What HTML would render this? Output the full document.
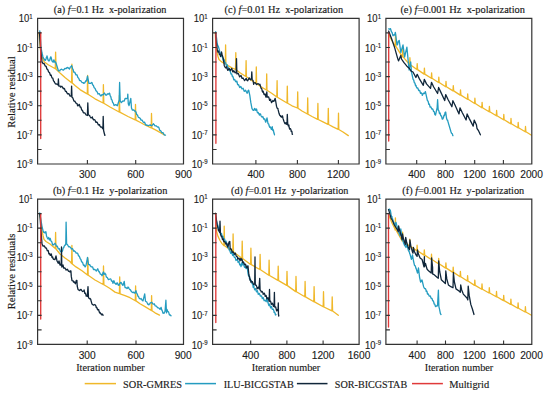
<!DOCTYPE html><html><head><meta charset="utf-8"><style>html,body{margin:0;padding:0;background:#fff;width:550px;height:393px;overflow:hidden}</style></head><body><svg width="550" height="393" viewBox="0 0 550 393" style="display:block">
<rect width="550" height="393" fill="#fff"/>
<clipPath id="clipa"><rect x="37.6" y="18.3" width="145.9" height="145.7"/></clipPath>
<g clip-path="url(#clipa)" fill="none" stroke-linejoin="round" stroke-linecap="round">
<polyline points="39.0,33.0 39.6,40.0 40.5,50.0 41.7,55.5 44.1,61.7 48.2,64.7 55.3,68.8 55.6,52.1 56.1,69.3 60.0,73.0 65.0,77.5 70.0,81.5 71.6,82.8 71.9,64.2 72.3,83.1 75.0,85.5 80.0,89.6 85.0,92.6 87.3,94.0 87.6,75.5 88.0,94.2 95.0,98.8 103.1,103.0 103.4,84.7 103.8,103.2 110.0,107.0 115.0,109.8 119.1,112.0 119.4,95.4 119.8,112.2 128.0,116.5 135.2,119.9 135.5,104.5 135.9,120.1 140.0,122.3 145.0,125.0 151.2,127.9 151.5,113.5 151.9,128.1 155.0,129.7 160.0,132.4 164.5,135.0" stroke="#F0B82A" stroke-width="1.3"/>
<polyline points="39.8,31.0 40.5,40.0 41.0,47.0 42.0,53.0 43.0,57.0 43.8,58.8 44.7,59.5 45.0,60.5 45.6,60.1 46.0,59.0 46.3,57.7 46.8,56.9 47.0,56.0 48.0,60.0 49.0,61.0 49.1,60.1 49.9,60.0 50.0,59.0 50.6,57.0 51.0,57.0 52.0,61.0 53.0,62.0 53.1,62.3 53.9,59.8 54.0,60.0 54.5,61.7 55.0,62.5 55.4,61.9 56.0,63.0 58.4,70.8 59.9,70.8 60.0,70.0 61.6,69.2 62.5,69.8 63.2,70.2 64.5,69.0 64.8,68.5 66.3,68.6 66.5,67.8 67.8,67.5 69.5,69.0 69.6,68.8 70.4,66.9 71.4,66.5 71.6,65.7 72.0,66.3 72.6,68.8 73.1,69.5 73.7,72.1 73.7,71.8 74.8,72.4 76.0,74.9 76.7,74.9 77.0,74.8 77.9,77.6 78.7,78.2 79.6,80.5 80.0,80.7 80.7,80.6 82.0,82.5 83.4,82.7 83.6,83.4 84.7,82.9 86.0,80.7 86.5,81.0 87.5,76.2 88.9,83.4 90.5,83.4 91.6,82.5 91.9,82.4 92.6,84.8 93.4,85.5 94.2,87.9 94.3,87.8 95.1,88.4 96.0,90.7 96.9,91.5 97.8,93.2 97.9,94.0 99.2,93.6 100.6,95.8 101.4,95.8 101.9,94.6 103.2,94.9 104.1,93.2 104.4,93.0 105.8,95.2 106.7,95.0 107.2,93.9 108.6,94.0 109.4,93.2 109.6,93.2 110.2,95.8 110.7,96.4 111.2,98.5 111.3,99.3 112.0,99.9 112.6,102.3 113.3,103.2 113.9,104.8 114.1,105.5 115.8,104.6 117.4,105.7 119.2,100.0 119.6,82.5 120.2,101.0 121.0,102.1 121.3,102.6 122.9,101.0 123.7,101.2 124.2,101.1 125.1,98.5 125.5,98.5 126.5,98.7 127.5,98.0 127.8,94.1 128.3,104.0 128.9,105.1 129.0,105.7 130.4,100.0 130.8,98.5 131.5,108.0 132.3,109.9 132.6,110.1 133.6,109.8 135.2,111.6 135.3,111.0 136.0,112.0 136.7,114.5 137.5,115.0 137.9,116.3 138.5,117.4 139.7,117.8 140.6,119.0 140.9,120.0 142.1,120.1 143.3,122.2 144.2,122.6 144.5,122.1 145.6,124.7 146.8,125.3 146.8,125.0 148.5,125.7 150.2,124.7 150.4,125.3 151.9,125.6 153.5,123.8 154.0,124.4 155.0,125.8 156.4,125.8 156.6,126.2 157.9,127.2 158.4,127.0 158.9,127.6 159.7,130.2 160.2,130.6 160.6,130.7 161.8,132.6 163.0,132.6 163.8,134.2 164.3,134.9 165.5,135.2" stroke="#249CC0" stroke-width="1.3"/>
<polyline points="39.5,33.0 40.5,48.0 42.0,61.7 43.1,63.7 44.1,63.5 45.2,66.1 45.2,65.7 46.1,66.2 46.9,69.0 47.8,69.6 48.2,70.8 48.6,72.0 49.5,72.5 50.4,75.3 51.3,75.1 51.3,75.9 52.0,77.9 52.8,78.2 53.5,80.9 54.3,81.5 54.3,82.0 55.5,83.8 56.4,84.1 56.8,83.9 58.1,85.0 58.4,79.0 58.8,86.0 60.4,86.1 60.5,87.1 61.9,86.3 63.3,88.8 63.5,88.1 64.4,88.5 65.4,91.4 66.4,91.3 66.5,92.2 67.6,93.8 68.8,93.6 69.6,95.3 70.1,96.0 71.3,96.0 71.6,86.1 72.0,97.3 72.9,98.1 73.9,101.0 74.7,101.4 74.8,101.1 76.0,103.2 76.7,103.4 77.0,103.5 77.5,105.4 77.8,105.9 79.0,104.8 79.2,104.3 80.0,106.5 80.1,107.0 80.9,107.2 81.7,110.2 82.0,110.0 82.6,110.7 83.4,112.8 83.6,112.8 84.8,112.8 85.5,114.0 86.1,115.0 87.4,115.5 87.8,102.8 88.3,115.0 89.6,115.4 90.0,116.5 91.0,118.0 92.4,117.0 92.5,118.1 93.6,119.9 94.0,119.5 94.8,119.8 96.0,122.4 96.0,121.7 97.2,122.4 97.5,123.0 98.4,125.0 99.6,124.6 99.6,125.3 100.6,127.0 101.0,127.0 101.8,127.1 102.9,128.8 103.2,116.3 103.6,130.5 104.2,133.0 104.8,135.4 105.0,135.0" stroke="#10263A" stroke-width="1.3"/>
<polyline points="40.7,32.6 40.7,138.5" stroke="#E03A3A" stroke-width="1.35"/>
</g>
<path d="M37.6,18.3H183.5V164.0H37.6Z" fill="none" stroke="#333333" stroke-width="1.2"/>
<path d="M37.6,32.87h4M37.6,47.44h4M37.6,62.01h4M37.6,76.58h4M37.6,91.15h4M37.6,105.72h4M37.6,120.29h4M37.6,134.86h4M37.6,149.43h4M87.4,164.0v-4M135.7,164.0v-4" stroke="#333333" stroke-width="1.1" fill="none"/>
<text transform="translate(32.7,22.4) scale(0.93,1)" text-anchor="end" font-family='"Liberation Sans", sans-serif' font-size="10.2" fill="#1a1a1a" stroke="#1a1a1a" stroke-width="0.12">10<tspan dy="-3.9" font-size="6.5">1</tspan></text>
<text transform="translate(32.7,51.5) scale(0.93,1)" text-anchor="end" font-family='"Liberation Sans", sans-serif' font-size="10.2" fill="#1a1a1a" stroke="#1a1a1a" stroke-width="0.12">10<tspan dy="-3.9" font-size="6.5">-1</tspan></text>
<text transform="translate(32.7,80.7) scale(0.93,1)" text-anchor="end" font-family='"Liberation Sans", sans-serif' font-size="10.2" fill="#1a1a1a" stroke="#1a1a1a" stroke-width="0.12">10<tspan dy="-3.9" font-size="6.5">-3</tspan></text>
<text transform="translate(32.7,109.8) scale(0.93,1)" text-anchor="end" font-family='"Liberation Sans", sans-serif' font-size="10.2" fill="#1a1a1a" stroke="#1a1a1a" stroke-width="0.12">10<tspan dy="-3.9" font-size="6.5">-5</tspan></text>
<text transform="translate(32.7,139.0) scale(0.93,1)" text-anchor="end" font-family='"Liberation Sans", sans-serif' font-size="10.2" fill="#1a1a1a" stroke="#1a1a1a" stroke-width="0.12">10<tspan dy="-3.9" font-size="6.5">-7</tspan></text>
<text transform="translate(32.7,168.1) scale(0.93,1)" text-anchor="end" font-family='"Liberation Sans", sans-serif' font-size="10.2" fill="#1a1a1a" stroke="#1a1a1a" stroke-width="0.12">10<tspan dy="-3.9" font-size="6.5">-9</tspan></text>
<text x="87.4" y="178.3" text-anchor="middle" font-family='"Liberation Sans", sans-serif' font-size="10.2" fill="#1a1a1a" stroke="#1a1a1a" stroke-width="0.12">300</text>
<text x="135.7" y="178.3" text-anchor="middle" font-family='"Liberation Sans", sans-serif' font-size="10.2" fill="#1a1a1a" stroke="#1a1a1a" stroke-width="0.12">600</text>
<text x="183.5" y="178.3" text-anchor="middle" font-family='"Liberation Sans", sans-serif' font-size="10.2" fill="#1a1a1a" stroke="#1a1a1a" stroke-width="0.12">900</text>
<text x="53.8" y="12.7" textLength="112.7" lengthAdjust="spacingAndGlyphs" font-family='"Liberation Serif", serif' font-size="10.3" fill="#1a1a1a" stroke="#1a1a1a" stroke-width="0.15">(a) <tspan font-style="italic">f</tspan>=0.1 Hz&#160; x-polarization</text>
<text transform="translate(14.9,92.0) rotate(-90)" text-anchor="middle" font-family='"Liberation Serif", serif' font-size="10.6" fill="#1a1a1a" stroke="#1a1a1a" stroke-width="0.15">Relative residual</text>
<clipPath id="clipc"><rect x="212.6" y="18.3" width="146.50000000000003" height="145.7"/></clipPath>
<g clip-path="url(#clipc)" fill="none" stroke-linejoin="round" stroke-linecap="round">
<polyline points="215.3,33.0 215.8,44.0 216.5,49.0 217.0,52.6 218.0,56.5 219.0,59.5 221.0,61.4 223.0,62.6 225.3,63.8 225.6,45.0 225.9,64.0 228.0,65.6 232.0,67.9 235.5,69.5 235.8,52.7 236.1,69.7 240.0,72.8 245.8,76.5 246.1,60.6 246.4,76.7 251.0,80.0 256.0,83.5 256.3,67.0 256.6,83.7 261.0,86.8 266.4,90.0 266.7,74.0 267.0,90.2 272.0,93.5 276.8,97.0 277.1,80.7 277.4,97.2 282.0,100.0 287.0,103.0 287.3,86.1 287.6,103.2 292.0,105.8 297.4,108.0 297.7,91.8 298.0,108.2 302.0,111.0 307.4,114.0 307.7,97.8 308.0,114.2 312.0,116.5 317.6,119.3 317.9,103.4 318.2,119.5 323.0,121.8 328.0,124.3 328.3,108.3 328.6,124.5 333.0,126.8 338.2,129.3 338.5,113.2 338.8,129.5 343.0,132.0 348.3,135.6" stroke="#F0B82A" stroke-width="1.3"/>
<polyline points="215.7,31.6 215.9,33.1 217.2,43.3 217.8,46.0 218.2,46.0 219.2,49.4 220.2,53.5 221.2,53.6 221.5,55.0 221.9,56.8 222.5,57.0 223.1,60.0 223.3,59.6 224.0,59.4 224.5,61.0 224.9,63.1 225.6,62.7 226.3,65.4 226.3,64.7 227.2,64.9 228.0,68.0 228.4,67.8 228.8,68.0 229.6,70.8 230.3,70.5 230.4,71.8 231.0,74.0 231.7,73.9 232.4,76.6 232.4,75.9 233.1,76.8 233.8,79.8 234.5,80.0 234.6,79.4 235.7,81.7 236.5,82.0 236.8,81.0 237.6,84.5 238.5,85.1 238.5,84.6 239.7,87.5 240.8,86.5 241.6,88.1 242.0,88.9 243.1,88.3 244.2,91.3 244.7,91.2 245.6,90.3 247.1,93.3 247.7,92.2 248.1,90.5 248.7,90.2 249.8,95.3 250.8,102.4 252.0,108.6 253.2,110.4 254.0,110.3 254.5,108.5 255.8,110.4 256.0,109.0 256.6,109.1 257.0,111.2 257.3,112.3 258.0,113.0 258.1,112.3 259.5,115.1 259.5,113.9 260.5,113.8 261.0,115.7 261.6,116.8 262.5,117.0 262.8,116.5 263.8,119.2 264.0,118.8 264.8,119.0 265.0,120.1 265.7,122.2 266.0,121.5 267.0,117.9 268.0,123.7 268.8,124.1 269.0,125.5 269.7,127.4 270.0,126.8 270.5,127.3 271.0,128.6 271.4,129.5 272.0,127.3 272.2,126.6 272.8,130.5 273.0,129.9 273.4,130.0 273.9,133.1 274.0,132.6 274.5,134.8" stroke="#249CC0" stroke-width="1.3"/>
<polyline points="215.6,33.0 215.7,37.2 217.2,49.4 217.9,52.1 218.6,51.0 219.2,53.5 219.3,54.3 220.0,54.7 220.6,56.6 221.5,52.0 222.2,55.0 223.3,58.6 224.3,65.7 225.4,67.8 226.3,67.8 226.5,66.7 227.7,70.4 228.4,69.8 229.0,68.5 230.5,70.5 231.4,68.8 231.8,68.5 232.7,71.9 233.5,71.8 233.7,70.6 235.2,72.8 236.2,72.5 236.5,58.6 236.9,73.9 238.3,73.4 239.7,76.9 240.6,75.9 241.0,75.5 242.1,78.4 243.2,78.1 243.6,79.0 244.6,80.6 246.2,78.4 246.7,80.0 247.7,80.8 249.2,77.9 249.8,79.0 250.6,79.7 251.5,78.0 251.8,71.8 252.2,80.0 253.0,80.3 253.7,84.3 253.8,83.0 255.1,82.6 256.6,84.6 256.9,84.1 258.2,83.6 259.8,85.1 259.9,84.1 261.0,88.1 261.7,88.6 262.4,91.6 263.0,92.2 263.1,91.2 264.1,94.6 265.0,94.0 266.0,97.2 266.0,96.3 266.5,94.0 266.8,92.0 267.2,97.0 268.5,96.8 269.1,98.3 269.6,100.4 270.5,99.3 271.0,101.0 271.6,102.7 272.0,102.0 272.9,100.5 273.2,101.4 274.1,101.1 275.2,98.3 275.2,99.3 275.5,100.0 276.5,106.2 277.2,108.4 277.9,108.4 278.0,109.2 279.0,113.3 279.7,115.2 280.4,115.6 280.5,116.4 281.8,117.2 282.0,115.9 282.5,116.0 283.0,118.4 284.0,121.5 285.0,123.6 286.0,122.7 286.0,124.0 287.0,124.5 287.3,114.3 287.7,123.5 288.3,125.9 288.9,125.1 289.0,126.6 289.6,129.0 290.0,128.6 290.4,128.6 291.0,130.1 291.2,131.4 291.8,131.2 292.3,134.3 292.5,134.2" stroke="#10263A" stroke-width="1.3"/>
<polyline points="215.9,32.6 215.9,143.3" stroke="#E03A3A" stroke-width="1.35"/>
</g>
<path d="M212.6,18.3H359.1V164.0H212.6Z" fill="none" stroke="#333333" stroke-width="1.2"/>
<path d="M212.6,32.87h4M212.6,47.44h4M212.6,62.01h4M212.6,76.58h4M212.6,91.15h4M212.6,105.72h4M212.6,120.29h4M212.6,134.86h4M212.6,149.43h4M255.9,164.0v-4M297.4,164.0v-4M338.4,164.0v-4" stroke="#333333" stroke-width="1.1" fill="none"/>
<text transform="translate(207.7,22.4) scale(0.93,1)" text-anchor="end" font-family='"Liberation Sans", sans-serif' font-size="10.2" fill="#1a1a1a" stroke="#1a1a1a" stroke-width="0.12">10<tspan dy="-3.9" font-size="6.5">1</tspan></text>
<text transform="translate(207.7,51.5) scale(0.93,1)" text-anchor="end" font-family='"Liberation Sans", sans-serif' font-size="10.2" fill="#1a1a1a" stroke="#1a1a1a" stroke-width="0.12">10<tspan dy="-3.9" font-size="6.5">-1</tspan></text>
<text transform="translate(207.7,80.7) scale(0.93,1)" text-anchor="end" font-family='"Liberation Sans", sans-serif' font-size="10.2" fill="#1a1a1a" stroke="#1a1a1a" stroke-width="0.12">10<tspan dy="-3.9" font-size="6.5">-3</tspan></text>
<text transform="translate(207.7,109.8) scale(0.93,1)" text-anchor="end" font-family='"Liberation Sans", sans-serif' font-size="10.2" fill="#1a1a1a" stroke="#1a1a1a" stroke-width="0.12">10<tspan dy="-3.9" font-size="6.5">-5</tspan></text>
<text transform="translate(207.7,139.0) scale(0.93,1)" text-anchor="end" font-family='"Liberation Sans", sans-serif' font-size="10.2" fill="#1a1a1a" stroke="#1a1a1a" stroke-width="0.12">10<tspan dy="-3.9" font-size="6.5">-7</tspan></text>
<text transform="translate(207.7,168.1) scale(0.93,1)" text-anchor="end" font-family='"Liberation Sans", sans-serif' font-size="10.2" fill="#1a1a1a" stroke="#1a1a1a" stroke-width="0.12">10<tspan dy="-3.9" font-size="6.5">-9</tspan></text>
<text x="255.9" y="178.3" text-anchor="middle" font-family='"Liberation Sans", sans-serif' font-size="10.2" fill="#1a1a1a" stroke="#1a1a1a" stroke-width="0.12">400</text>
<text x="297.4" y="178.3" text-anchor="middle" font-family='"Liberation Sans", sans-serif' font-size="10.2" fill="#1a1a1a" stroke="#1a1a1a" stroke-width="0.12">800</text>
<text x="338.4" y="178.3" text-anchor="middle" font-family='"Liberation Sans", sans-serif' font-size="10.2" fill="#1a1a1a" stroke="#1a1a1a" stroke-width="0.12">1200</text>
<text x="224.5" y="12.7" textLength="118.7" lengthAdjust="spacingAndGlyphs" font-family='"Liberation Serif", serif' font-size="10.3" fill="#1a1a1a" stroke="#1a1a1a" stroke-width="0.15">(c) <tspan font-style="italic">f</tspan>=0.01 Hz&#160; x-polarization</text>
<clipPath id="clipe"><rect x="385.9" y="18.3" width="145.89999999999998" height="145.7"/></clipPath>
<g clip-path="url(#clipe)" fill="none" stroke-linejoin="round" stroke-linecap="round">
<polyline points="388.6,33.0 390.1,37.2 393.0,42.5 395.2,46.3 395.5,34.3 395.9,46.3 402.4,56.8 402.7,47.8 403.1,56.8 409.6,64.7 409.9,57.7 410.3,64.7 416.9,69.6 417.2,63.6 417.6,69.6 424.1,74.1 424.4,68.1 424.8,74.1 431.3,78.3 431.6,72.8 432.0,78.3 438.5,82.5 438.8,77.2 439.2,82.5 445.7,86.7 446.0,81.4 446.4,86.7 453.0,90.9 453.3,85.6 453.7,90.9 460.2,95.1 460.5,89.8 460.9,95.1 467.4,99.3 467.7,94.0 468.1,99.3 474.6,103.5 474.9,98.2 475.3,103.5 481.8,107.7 482.1,102.4 482.5,107.7 489.1,111.8 489.4,106.5 489.8,111.8 496.3,115.8 496.6,110.5 497.0,115.8 503.5,119.8 503.8,114.5 504.2,119.8 510.7,123.8 511.0,118.5 511.4,123.8 517.9,127.8 518.2,122.5 518.6,127.8 525.2,131.8 525.5,126.5 525.9,131.8 531.5,135.2" stroke="#F0B82A" stroke-width="1.3"/>
<polyline points="388.6,28.9 389.5,29.0 390.1,29.5 390.5,28.6 391.5,32.0 392.1,32.4 392.7,35.1 393.1,35.7 393.4,34.8 394.4,35.2 395.0,33.5 395.3,32.3 395.4,32.7 397.0,44.9 397.6,44.4 398.3,41.2 398.9,41.7 399.2,40.3 400.8,52.5 403.0,44.9 404.6,57.0 406.9,47.2 408.4,63.2 409.1,70.0 410.7,62.0 411.5,72.0 413.1,79.3 413.7,80.0 414.3,82.6 414.9,83.0 415.5,85.5 416.1,85.5 416.2,86.5 416.9,88.0 417.8,88.0 418.7,90.6 419.3,90.5 419.7,90.5 420.5,93.3 421.4,92.9 422.3,94.6 422.3,95.4 423.4,93.2 424.5,93.5 425.4,91.6 427.4,100.7 428.1,101.1 428.8,104.3 429.4,104.2 430.1,107.1 430.5,106.8 430.9,106.9 431.8,109.1 432.7,108.9 433.5,110.9 433.5,111.4 434.2,111.6 434.8,114.4 435.5,115.0 437.1,108.0 437.6,99.7 438.2,110.0 438.8,110.7 439.5,113.5 439.6,113.0 440.1,113.0 440.8,115.9 441.5,116.0 442.2,119.0 442.7,119.1 442.8,118.1 443.4,118.0 444.0,115.1 444.5,115.6 445.1,112.4 445.2,113.0 445.7,112.0 446.5,118.0 447.1,120.2 447.7,120.2 447.8,121.1 450.8,131.3 451.5,133.2 452.2,133.6 452.9,135.7 452.9,135.4" stroke="#249CC0" stroke-width="1.3"/>
<polyline points="388.6,31.1 391.6,38.8 394.7,47.9 397.7,58.6 398.5,60.9 400.8,55.5 401.5,59.0 403.8,62.4 406.9,66.2 409.5,68.5 411.1,71.2 413.0,72.0 415.9,77.5 417.2,74.3 419.4,78.9 423.3,85.3 424.3,79.3 426.5,83.9 430.5,88.4 431.5,82.4 433.7,87.0 437.6,93.5 438.6,87.5 440.8,92.1 444.7,100.6 445.7,94.6 447.9,99.2 451.9,106.7 452.9,100.7 455.1,105.3 459.0,113.9 460.0,107.9 462.2,112.5 466.1,120.0 467.1,114.0 469.3,118.6 473.2,126.1 474.2,120.1 476.4,124.7 477.0,128.5 478.3,130.3 480.4,134.8" stroke="#10263A" stroke-width="1.3"/>
<polyline points="388.7,32.6 388.7,141.0" stroke="#E03A3A" stroke-width="1.35"/>
</g>
<path d="M385.9,18.3H531.8V164.0H385.9Z" fill="none" stroke="#333333" stroke-width="1.2"/>
<path d="M385.9,32.87h4M385.9,47.44h4M385.9,62.01h4M385.9,76.58h4M385.9,91.15h4M385.9,105.72h4M385.9,120.29h4M385.9,134.86h4M385.9,149.43h4M416.7,164.0v-4M445.5,164.0v-4M474.7,164.0v-4M503.4,164.0v-4" stroke="#333333" stroke-width="1.1" fill="none"/>
<text transform="translate(381.0,22.4) scale(0.93,1)" text-anchor="end" font-family='"Liberation Sans", sans-serif' font-size="10.2" fill="#1a1a1a" stroke="#1a1a1a" stroke-width="0.12">10<tspan dy="-3.9" font-size="6.5">1</tspan></text>
<text transform="translate(381.0,51.5) scale(0.93,1)" text-anchor="end" font-family='"Liberation Sans", sans-serif' font-size="10.2" fill="#1a1a1a" stroke="#1a1a1a" stroke-width="0.12">10<tspan dy="-3.9" font-size="6.5">-1</tspan></text>
<text transform="translate(381.0,80.7) scale(0.93,1)" text-anchor="end" font-family='"Liberation Sans", sans-serif' font-size="10.2" fill="#1a1a1a" stroke="#1a1a1a" stroke-width="0.12">10<tspan dy="-3.9" font-size="6.5">-3</tspan></text>
<text transform="translate(381.0,109.8) scale(0.93,1)" text-anchor="end" font-family='"Liberation Sans", sans-serif' font-size="10.2" fill="#1a1a1a" stroke="#1a1a1a" stroke-width="0.12">10<tspan dy="-3.9" font-size="6.5">-5</tspan></text>
<text transform="translate(381.0,139.0) scale(0.93,1)" text-anchor="end" font-family='"Liberation Sans", sans-serif' font-size="10.2" fill="#1a1a1a" stroke="#1a1a1a" stroke-width="0.12">10<tspan dy="-3.9" font-size="6.5">-7</tspan></text>
<text transform="translate(381.0,168.1) scale(0.93,1)" text-anchor="end" font-family='"Liberation Sans", sans-serif' font-size="10.2" fill="#1a1a1a" stroke="#1a1a1a" stroke-width="0.12">10<tspan dy="-3.9" font-size="6.5">-9</tspan></text>
<text x="416.7" y="178.3" text-anchor="middle" font-family='"Liberation Sans", sans-serif' font-size="10.2" fill="#1a1a1a" stroke="#1a1a1a" stroke-width="0.12">400</text>
<text x="445.5" y="178.3" text-anchor="middle" font-family='"Liberation Sans", sans-serif' font-size="10.2" fill="#1a1a1a" stroke="#1a1a1a" stroke-width="0.12">800</text>
<text x="474.7" y="178.3" text-anchor="middle" font-family='"Liberation Sans", sans-serif' font-size="10.2" fill="#1a1a1a" stroke="#1a1a1a" stroke-width="0.12">1200</text>
<text x="503.4" y="178.3" text-anchor="middle" font-family='"Liberation Sans", sans-serif' font-size="10.2" fill="#1a1a1a" stroke="#1a1a1a" stroke-width="0.12">1600</text>
<text x="531.6" y="178.3" text-anchor="middle" font-family='"Liberation Sans", sans-serif' font-size="10.2" fill="#1a1a1a" stroke="#1a1a1a" stroke-width="0.12">2000</text>
<text x="400.4" y="12.7" textLength="124.6" lengthAdjust="spacingAndGlyphs" font-family='"Liberation Serif", serif' font-size="10.3" fill="#1a1a1a" stroke="#1a1a1a" stroke-width="0.15">(e) <tspan font-style="italic">f</tspan>=0.001 Hz&#160; x-polarization</text>
<clipPath id="clipb"><rect x="37.6" y="199.1" width="145.9" height="145.29999999999998"/></clipPath>
<g clip-path="url(#clipb)" fill="none" stroke-linejoin="round" stroke-linecap="round">
<polyline points="39.8,213.7 41.0,222.8 42.0,230.4 43.0,235.5 44.0,239.4 46.0,241.5 50.0,244.0 55.3,248.5 55.6,232.4 56.0,249.0 60.0,254.0 65.0,258.0 70.0,261.5 71.6,263.5 71.9,245.3 72.3,264.0 76.0,266.9 82.0,270.7 87.5,275.0 87.8,258.0 88.2,275.3 95.0,280.0 103.2,284.5 103.5,266.0 103.9,284.7 110.0,288.5 115.0,292.1 119.4,293.6 119.7,276.8 120.1,293.8 125.0,295.6 130.0,297.7 135.3,300.7 135.6,285.9 136.0,300.9 140.0,303.8 145.0,306.6 151.3,310.5 151.6,295.6 152.0,310.7 155.0,312.8 159.5,315.1" stroke="#F0B82A" stroke-width="1.3"/>
<polyline points="39.8,213.0 41.0,220.3 42.0,226.6 43.0,230.4 43.8,232.4 44.0,232.4 45.0,232.2 45.0,233.0 45.9,231.7 46.5,236.0 47.3,237.8 48.0,239.0 48.0,238.6 48.7,237.8 48.7,237.4 49.5,240.0 50.0,238.8 50.2,238.4 51.0,241.1 51.8,241.7 52.0,242.6 52.4,244.2 53.0,245.2 53.1,244.8 54.3,244.2 55.0,243.3 55.4,243.7 56.3,246.0 57.0,246.5 57.2,246.1 58.3,248.8 59.0,249.0 59.4,248.7 60.4,251.6 61.0,251.5 61.8,251.2 62.0,251.6 62.5,250.9 63.2,248.0 63.8,247.7 64.0,246.6 64.8,245.2 65.0,245.5 65.5,244.7 65.8,243.5 66.1,222.1 66.6,243.5 67.0,244.5 67.4,244.5 68.6,246.8 69.0,246.6 69.9,246.8 71.0,248.1 71.3,249.0 72.0,248.6 72.6,248.7 73.8,251.2 74.0,250.6 75.0,251.6 75.0,251.3 76.0,252.7 76.2,253.2 77.6,253.1 78.0,254.2 78.5,255.8 79.3,256.2 80.0,258.0 80.1,258.6 80.9,259.5 81.6,261.9 82.0,262.0 82.5,262.1 83.3,264.9 84.0,265.5 84.2,265.0 85.0,266.8 85.2,266.9 86.0,265.5 87.5,257.3 88.5,264.3 89.8,264.6 90.0,265.5 91.2,266.8 92.0,266.8 92.5,266.8 93.5,269.5 94.0,269.4 94.8,269.5 96.0,270.6 96.2,271.1 97.7,268.8 98.0,269.4 98.5,271.0 99.0,271.9 99.2,271.4 100.0,273.2 100.3,274.1 101.3,274.4 102.0,275.7 102.2,275.6 102.9,272.8 103.5,272.0 104.0,274.4 105.0,273.2 105.1,274.0 105.7,274.1 106.0,275.7 106.4,277.1 107.3,277.5 108.0,278.9 108.5,279.6 110.0,279.0 110.2,278.8 111.0,279.3 111.4,280.8 112.0,281.4 112.1,280.9 113.0,282.9 113.0,283.4 113.8,280.7 114.0,280.9 114.5,282.5 115.0,283.4 115.2,283.2 116.0,284.4 116.3,284.2 117.0,282.9 117.3,282.8 118.0,284.4 118.2,285.2 119.0,285.4 119.2,284.3 119.8,283.4 119.9,283.7 120.5,282.4 121.0,282.4 122.0,283.9 122.1,284.6 123.0,285.4 124.2,281.4 125.0,287.5 126.5,287.9 127.0,288.5 127.6,288.1 128.0,287.0 128.6,287.6 129.0,288.5 129.7,289.5 130.0,289.5 130.7,290.3 131.0,291.0 131.9,292.0 133.0,292.6 133.3,292.1 135.0,293.2 135.0,292.6 135.9,290.7 136.0,291.0 136.5,292.7 137.0,293.6 137.2,293.6 137.9,296.1 138.6,296.6 139.0,297.9 139.7,298.7 141.0,299.0 141.1,298.5 142.4,300.7 143.0,300.8 144.7,293.9 145.5,301.3 146.8,302.0 147.0,302.5 148.0,304.4 149.0,304.8 149.1,304.1 149.9,303.8 150.0,303.1 151.5,302.4 152.0,302.5 152.9,304.0 154.0,304.2 154.2,303.8 155.0,305.4 155.3,305.9 156.6,306.2 157.0,307.1 158.0,307.9 159.0,308.2 159.4,308.3 160.0,309.4 160.3,309.0 161.0,307.6 161.1,307.4 161.7,309.8 162.0,310.5 162.3,310.7 163.0,313.2 163.0,312.8 164.0,313.4 164.2,312.7 165.0,311.7 165.9,300.2 166.5,312.8 167.0,309.4 167.7,311.4 168.0,311.7 168.5,311.9 169.0,313.4 169.3,314.6 170.0,315.1 170.3,315.0 171.0,315.7" stroke="#249CC0" stroke-width="1.3"/>
<polyline points="39.8,213.7 41.0,230.4 42.0,244.0 43.1,246.1 44.0,246.0 44.3,245.9 45.4,247.9 46.0,248.0 46.4,248.1 47.3,250.7 48.0,251.0 48.2,250.5 48.9,253.8 49.6,253.6 50.0,255.0 50.5,255.4 51.0,254.0 51.3,254.0 52.0,257.3 52.6,256.9 53.0,258.5 53.7,259.4 55.0,259.5 56.0,255.8 57.0,261.0 57.7,262.1 58.0,263.0 58.4,263.2 59.0,261.0 60.0,265.0 61.2,265.0 61.5,247.0 61.8,267.0 63.0,266.0 63.0,265.0 63.7,268.2 64.0,268.0 64.8,268.0 66.0,269.5 66.1,270.0 67.5,269.3 68.0,270.5 68.9,271.5 70.0,272.0 70.1,270.9 70.9,270.8 71.3,276.4 72.0,280.6 73.5,281.1 73.5,282.2 74.4,281.9 75.0,283.2 75.4,283.7 76.0,281.8 76.3,280.4 76.9,280.4 77.2,286.0 78.0,289.4 79.5,290.6 80.0,290.1 81.0,289.4 82.0,290.8 82.6,291.5 84.0,290.8 84.1,290.0 84.8,293.4 85.0,292.9 85.4,293.3 86.0,295.0 86.2,296.0 87.3,295.6 87.3,296.4 88.0,286.6 88.5,297.8 89.9,298.9 90.0,298.5 90.7,299.2 91.0,300.6 92.0,304.1 93.5,305.2 94.0,304.8 94.9,304.5 96.0,306.2 96.1,307.3 96.8,307.4 97.0,308.3 97.6,309.8 98.6,309.5 99.0,311.1 99.4,312.3 100.0,313.2 100.1,312.5 101.6,314.8 102.0,313.9 102.7,314.5 103.0,315.3" stroke="#10263A" stroke-width="1.3"/>
<polyline points="40.7,213.7 40.7,319.0" stroke="#E03A3A" stroke-width="1.35"/>
</g>
<path d="M37.6,199.1H183.5V344.4H37.6Z" fill="none" stroke="#333333" stroke-width="1.2"/>
<path d="M37.6,213.63h4M37.6,228.16h4M37.6,242.69h4M37.6,257.22h4M37.6,271.75h4M37.6,286.28h4M37.6,300.81h4M37.6,315.34h4M37.6,329.87h4M87.2,344.4v-4M136.0,344.4v-4" stroke="#333333" stroke-width="1.1" fill="none"/>
<text transform="translate(32.7,203.2) scale(0.93,1)" text-anchor="end" font-family='"Liberation Sans", sans-serif' font-size="10.2" fill="#1a1a1a" stroke="#1a1a1a" stroke-width="0.12">10<tspan dy="-3.9" font-size="6.5">1</tspan></text>
<text transform="translate(32.7,232.3) scale(0.93,1)" text-anchor="end" font-family='"Liberation Sans", sans-serif' font-size="10.2" fill="#1a1a1a" stroke="#1a1a1a" stroke-width="0.12">10<tspan dy="-3.9" font-size="6.5">-1</tspan></text>
<text transform="translate(32.7,261.3) scale(0.93,1)" text-anchor="end" font-family='"Liberation Sans", sans-serif' font-size="10.2" fill="#1a1a1a" stroke="#1a1a1a" stroke-width="0.12">10<tspan dy="-3.9" font-size="6.5">-3</tspan></text>
<text transform="translate(32.7,290.4) scale(0.93,1)" text-anchor="end" font-family='"Liberation Sans", sans-serif' font-size="10.2" fill="#1a1a1a" stroke="#1a1a1a" stroke-width="0.12">10<tspan dy="-3.9" font-size="6.5">-5</tspan></text>
<text transform="translate(32.7,319.4) scale(0.93,1)" text-anchor="end" font-family='"Liberation Sans", sans-serif' font-size="10.2" fill="#1a1a1a" stroke="#1a1a1a" stroke-width="0.12">10<tspan dy="-3.9" font-size="6.5">-7</tspan></text>
<text transform="translate(32.7,348.5) scale(0.93,1)" text-anchor="end" font-family='"Liberation Sans", sans-serif' font-size="10.2" fill="#1a1a1a" stroke="#1a1a1a" stroke-width="0.12">10<tspan dy="-3.9" font-size="6.5">-9</tspan></text>
<text x="87.2" y="358.7" text-anchor="middle" font-family='"Liberation Sans", sans-serif' font-size="10.2" fill="#1a1a1a" stroke="#1a1a1a" stroke-width="0.12">300</text>
<text x="136.0" y="358.7" text-anchor="middle" font-family='"Liberation Sans", sans-serif' font-size="10.2" fill="#1a1a1a" stroke="#1a1a1a" stroke-width="0.12">600</text>
<text x="183.2" y="358.7" text-anchor="middle" font-family='"Liberation Sans", sans-serif' font-size="10.2" fill="#1a1a1a" stroke="#1a1a1a" stroke-width="0.12">900</text>
<text x="53.1" y="193.5" textLength="114.3" lengthAdjust="spacingAndGlyphs" font-family='"Liberation Serif", serif' font-size="10.3" fill="#1a1a1a" stroke="#1a1a1a" stroke-width="0.15">(b) <tspan font-style="italic">f</tspan>=0.1 Hz&#160; y-polarization</text>
<text transform="translate(14.9,271.5) rotate(-90)" text-anchor="middle" font-family='"Liberation Serif", serif' font-size="10.6" fill="#1a1a1a" stroke="#1a1a1a" stroke-width="0.15">Relative residuals</text>
<text x="110.4" y="370.9" text-anchor="middle" textLength="68.5" lengthAdjust="spacingAndGlyphs" font-family='"Liberation Serif", serif' font-size="11.1" fill="#1a1a1a" stroke="#1a1a1a" stroke-width="0.15">Iteration number</text>
<clipPath id="clipd"><rect x="212.6" y="199.1" width="146.50000000000003" height="145.29999999999998"/></clipPath>
<g clip-path="url(#clipd)" fill="none" stroke-linejoin="round" stroke-linecap="round">
<polyline points="215.5,213.5 216.5,231.3 218.0,236.4 220.0,240.5 222.0,243.6 223.9,245.5 224.2,226.2 224.6,245.7 232.8,251.7 233.1,234.0 233.5,251.9 241.9,258.3 242.2,241.1 242.6,258.5 250.6,264.4 250.9,248.2 251.3,264.6 259.8,269.5 260.1,254.3 260.5,269.7 268.8,275.3 269.1,260.1 269.5,275.5 277.9,280.4 278.2,266.2 278.6,280.6 286.7,285.4 287.0,271.3 287.4,285.6 295.7,291.6 296.0,276.4 296.4,291.8 304.8,296.7 305.1,281.5 305.5,296.9 313.8,301.7 314.1,286.6 314.5,301.9 323.2,306.8 323.5,291.7 323.9,307.0 331.9,310.9 332.2,296.8 332.6,311.1 338.3,315.3" stroke="#F0B82A" stroke-width="1.3"/>
<polyline points="215.6,213.5 216.0,219.1 217.0,223.2 217.5,225.6 217.9,225.1 218.0,226.2 219.0,229.3 220.0,232.4 220.8,234.6 221.0,233.9 221.5,233.5 222.0,235.9 222.2,237.3 223.0,236.3 223.7,240.0 224.0,239.5 224.5,238.9 225.3,242.1 226.0,242.5 226.1,241.2 226.7,245.2 227.3,244.0 227.9,247.6 228.0,247.0 228.6,247.4 229.2,250.1 229.8,250.2 230.0,251.3 230.8,253.4 231.8,251.8 232.0,253.3 232.7,255.5 233.5,254.0 234.0,256.4 234.3,257.4 235.1,257.4 236.0,260.5 236.0,259.4 237.0,259.6 238.0,261.5 238.0,262.3 238.9,261.3 239.7,264.8 240.0,264.5 240.4,264.1 241.0,266.6 242.0,262.5 242.8,265.0 243.7,263.5 244.0,265.5 244.5,267.3 245.3,266.9 246.0,268.6 247.0,265.5 248.0,273.4 248.5,275.7 249.0,274.8 249.5,278.9 250.0,279.0 250.0,278.2 250.7,281.7 251.3,280.6 252.0,283.7 252.0,283.2 252.6,283.5 253.2,287.3 253.9,285.7 254.0,287.4 254.7,289.9 255.6,288.5 256.0,290.2 256.5,291.8 257.3,290.6 258.0,293.0 258.3,294.3 259.3,293.4 260.0,295.1 260.3,296.1 261.4,295.8 262.0,297.2 262.3,298.6 263.2,297.6 264.0,300.0 264.1,300.6 265.3,300.3 266.0,301.4 266.2,301.7 266.7,297.8 267.0,298.6 268.0,302.8 268.9,305.6 269.7,304.0 270.0,305.6 270.6,307.9 271.5,306.4 272.0,308.4 272.4,309.4 273.2,309.1 274.0,311.2 274.1,312.4 274.7,312.1 275.0,313.3 275.5,315.0 276.0,314.7" stroke="#249CC0" stroke-width="1.3"/>
<polyline points="215.6,213.5 217.0,224.2 218.0,228.3 218.5,230.9 219.1,229.6 219.6,232.4 220.0,221.2 220.5,234.4 221.2,236.3 221.8,236.1 222.0,237.4 222.5,239.5 223.2,238.9 223.8,241.6 224.0,241.5 224.7,241.6 225.8,244.1 226.0,243.6 226.7,243.1 227.5,246.9 228.0,246.6 229.0,242.1 229.8,241.5 230.2,249.2 231.2,248.9 232.0,251.3 232.2,252.3 233.2,251.9 234.0,253.3 234.3,254.4 235.3,253.1 236.0,255.4 236.3,256.4 237.1,256.4 237.9,259.4 238.0,258.4 239.0,258.1 240.0,260.4 240.0,260.9 240.7,258.5 241.0,258.4 241.4,260.2 242.0,259.2 242.7,262.6 243.0,262.5 243.5,261.9 244.6,264.7 245.0,264.5 245.5,264.2 246.3,267.7 247.0,267.8 247.0,266.6 247.8,267.4 248.0,266.0 249.0,276.2 249.5,276.3 250.0,280.2 250.5,279.6 251.0,281.8 251.0,282.3 252.3,281.6 253.0,283.2 253.6,284.5 254.7,284.0 255.0,256.9 255.3,285.0 256.2,285.1 257.0,287.4 257.0,288.9 258.3,287.3 259.0,288.8 259.7,278.3 260.1,290.0 261.0,290.9 261.2,292.0 262.2,291.5 263.0,293.0 263.2,294.3 264.3,293.3 265.0,295.1 265.2,296.4 266.1,295.4 267.0,298.9 267.0,297.9 268.1,297.8 269.2,301.5 269.2,300.0 269.5,289.5 269.8,300.7 270.5,301.1 271.0,302.8 271.4,304.3 272.4,303.3 273.0,304.9 273.6,306.5 274.1,305.5 274.4,292.3 274.7,307.0 275.7,307.0 276.6,310.8 277.0,309.8 277.6,309.6 278.0,311.0 278.3,302.8 278.5,314.7 278.8,316.0" stroke="#10263A" stroke-width="1.3"/>
<polyline points="215.8,213.5 215.8,322.5" stroke="#E03A3A" stroke-width="1.35"/>
</g>
<path d="M212.6,199.1H359.1V344.4H212.6Z" fill="none" stroke="#333333" stroke-width="1.2"/>
<path d="M212.6,213.63h4M212.6,228.16h4M212.6,242.69h4M212.6,257.22h4M212.6,271.75h4M212.6,286.28h4M212.6,300.81h4M212.6,315.34h4M212.6,329.87h4M250.7,344.4v-4M286.9,344.4v-4M323.1,344.4v-4" stroke="#333333" stroke-width="1.1" fill="none"/>
<text transform="translate(207.7,203.2) scale(0.93,1)" text-anchor="end" font-family='"Liberation Sans", sans-serif' font-size="10.2" fill="#1a1a1a" stroke="#1a1a1a" stroke-width="0.12">10<tspan dy="-3.9" font-size="6.5">1</tspan></text>
<text transform="translate(207.7,232.3) scale(0.93,1)" text-anchor="end" font-family='"Liberation Sans", sans-serif' font-size="10.2" fill="#1a1a1a" stroke="#1a1a1a" stroke-width="0.12">10<tspan dy="-3.9" font-size="6.5">-1</tspan></text>
<text transform="translate(207.7,261.3) scale(0.93,1)" text-anchor="end" font-family='"Liberation Sans", sans-serif' font-size="10.2" fill="#1a1a1a" stroke="#1a1a1a" stroke-width="0.12">10<tspan dy="-3.9" font-size="6.5">-3</tspan></text>
<text transform="translate(207.7,290.4) scale(0.93,1)" text-anchor="end" font-family='"Liberation Sans", sans-serif' font-size="10.2" fill="#1a1a1a" stroke="#1a1a1a" stroke-width="0.12">10<tspan dy="-3.9" font-size="6.5">-5</tspan></text>
<text transform="translate(207.7,319.4) scale(0.93,1)" text-anchor="end" font-family='"Liberation Sans", sans-serif' font-size="10.2" fill="#1a1a1a" stroke="#1a1a1a" stroke-width="0.12">10<tspan dy="-3.9" font-size="6.5">-7</tspan></text>
<text transform="translate(207.7,348.5) scale(0.93,1)" text-anchor="end" font-family='"Liberation Sans", sans-serif' font-size="10.2" fill="#1a1a1a" stroke="#1a1a1a" stroke-width="0.12">10<tspan dy="-3.9" font-size="6.5">-9</tspan></text>
<text x="250.7" y="358.7" text-anchor="middle" font-family='"Liberation Sans", sans-serif' font-size="10.2" fill="#1a1a1a" stroke="#1a1a1a" stroke-width="0.12">400</text>
<text x="286.9" y="358.7" text-anchor="middle" font-family='"Liberation Sans", sans-serif' font-size="10.2" fill="#1a1a1a" stroke="#1a1a1a" stroke-width="0.12">800</text>
<text x="323.1" y="358.7" text-anchor="middle" font-family='"Liberation Sans", sans-serif' font-size="10.2" fill="#1a1a1a" stroke="#1a1a1a" stroke-width="0.12">1200</text>
<text x="359.0" y="358.7" text-anchor="middle" font-family='"Liberation Sans", sans-serif' font-size="10.2" fill="#1a1a1a" stroke="#1a1a1a" stroke-width="0.12">1600</text>
<text x="231.0" y="193.5" textLength="117.4" lengthAdjust="spacingAndGlyphs" font-family='"Liberation Serif", serif' font-size="10.3" fill="#1a1a1a" stroke="#1a1a1a" stroke-width="0.15">(d) <tspan font-style="italic">f</tspan>=0.01 Hz&#160; y-polarization</text>
<text x="286.0" y="370.9" text-anchor="middle" textLength="68.5" lengthAdjust="spacingAndGlyphs" font-family='"Liberation Serif", serif' font-size="11.1" fill="#1a1a1a" stroke="#1a1a1a" stroke-width="0.15">Iteration number</text>
<clipPath id="clipf"><rect x="385.9" y="199.1" width="145.89999999999998" height="145.29999999999998"/></clipPath>
<g clip-path="url(#clipf)" fill="none" stroke-linejoin="round" stroke-linecap="round">
<polyline points="388.3,213.7 392.0,223.0 395.0,229.0 395.1,229.8 395.4,217.8 395.8,229.8 402.3,241.1 402.6,232.1 403.0,241.1 409.5,246.1 409.8,239.1 410.2,246.1 416.8,250.7 417.1,245.2 417.5,250.7 424.0,255.1 424.3,249.8 424.7,255.1 431.2,259.5 431.5,254.2 431.9,259.5 438.4,263.8 438.7,258.5 439.1,263.8 445.6,268.1 445.9,262.8 446.3,268.1 452.9,272.4 453.2,267.1 453.6,272.4 460.1,276.7 460.4,271.4 460.8,276.7 467.3,281.0 467.6,275.7 468.0,281.0 474.5,285.4 474.8,280.1 475.2,285.4 481.7,289.2 482.0,283.9 482.4,289.2 489.0,293.0 489.3,287.7 489.7,293.0 496.2,296.8 496.5,291.5 496.9,296.8 503.4,300.6 503.7,295.3 504.1,300.6 510.6,304.4 510.9,299.1 511.3,304.4 517.8,308.2 518.1,302.9 518.5,308.2 525.1,312.0 525.4,306.7 525.8,312.0 531.5,315.2" stroke="#F0B82A" stroke-width="1.3"/>
<polyline points="388.5,209.6 389.5,209.1 389.7,209.8 390.3,210.0 390.5,211.1 391.0,214.2 391.5,216.5 391.9,216.4 392.0,217.2 393.0,220.3 393.5,222.5 393.9,222.2 394.0,223.3 394.6,225.6 395.0,225.4 396.0,222.3 397.0,226.4 397.5,227.3 397.9,229.7 398.0,229.4 399.0,233.2 399.5,233.7 400.0,235.8 400.8,228.8 402.0,238.2 402.5,240.3 403.0,240.7 403.5,243.1 404.0,242.8 404.0,244.0 404.7,245.8 405.4,245.9 406.0,247.5 407.0,244.0 408.0,249.0 408.6,251.1 409.1,251.2 409.7,253.7 410.0,254.0 411.4,259.4 412.5,255.0 413.5,261.0 414.5,265.4 415.2,265.8 416.0,268.5 416.0,268.0 417.5,273.1 418.5,268.0 419.5,277.0 420.6,282.2 421.4,280.4 422.0,280.0 423.6,286.7 424.5,288.5 425.4,288.6 426.0,290.0 426.2,291.3 426.9,291.2 427.5,294.0 428.2,294.4 428.2,293.8 429.3,296.2 430.0,296.0 430.3,296.0 431.1,298.3 431.9,298.3 432.7,300.8 432.8,300.5 433.4,301.1 434.0,303.0 434.0,303.8 434.7,304.0 435.4,306.4 435.8,306.6 436.2,306.0 437.5,305.8 438.4,290.2 438.9,306.7 439.5,309.2 440.4,313.7 441.0,314.5" stroke="#249CC0" stroke-width="1.3"/>
<polyline points="388.6,209.6 391.1,218.4 391.5,219.0 392.5,220.5 394.1,224.5 397.7,230.4 398.2,231.7 398.6,226.0 399.6,230.3 401.2,235.8 402.1,239.7 402.5,234.0 403.5,238.8 405.1,243.7 405.3,244.7 405.7,237.3 406.7,242.5 408.3,247.6 409.5,249.7 409.9,239.8 410.9,246.4 412.5,252.1 412.7,252.6 413.0,253.1 413.4,247.5 414.4,251.4 416.0,254.9 417.1,256.4 417.5,250.0 418.5,254.3 420.1,258.0 422.1,259.5 424.0,266.8 424.4,256.6 424.4,266.8 425.4,263.3 427.0,269.0 428.5,270.8 431.2,273.1 431.6,258.0 432.6,267.5 432.6,273.9 434.2,274.8 436.7,276.9 438.3,278.2 438.7,261.0 439.7,271.7 441.3,279.7 444.8,283.0 445.4,283.6 445.8,271.0 446.8,278.9 448.4,284.9 449.9,286.1 453.0,287.8 453.4,272.5 454.4,282.0 456.0,288.9 459.0,291.0 460.3,292.3 460.7,285.0 461.7,289.9 463.3,294.1 467.2,298.3 467.8,299.9 468.2,286.1 469.2,295.4 470.8,304.4 472.4,309.0 474.0,314.5" stroke="#10263A" stroke-width="1.3"/>
<polyline points="388.5,213.7 388.5,327.0" stroke="#E03A3A" stroke-width="1.35"/>
</g>
<path d="M385.9,199.1H531.8V344.4H385.9Z" fill="none" stroke="#333333" stroke-width="1.2"/>
<path d="M385.9,213.63h4M385.9,228.16h4M385.9,242.69h4M385.9,257.22h4M385.9,271.75h4M385.9,286.28h4M385.9,300.81h4M385.9,315.34h4M385.9,329.87h4M417.1,344.4v-4M445.5,344.4v-4M474.3,344.4v-4M503.6,344.4v-4" stroke="#333333" stroke-width="1.1" fill="none"/>
<text transform="translate(381.0,203.2) scale(0.93,1)" text-anchor="end" font-family='"Liberation Sans", sans-serif' font-size="10.2" fill="#1a1a1a" stroke="#1a1a1a" stroke-width="0.12">10<tspan dy="-3.9" font-size="6.5">1</tspan></text>
<text transform="translate(381.0,232.3) scale(0.93,1)" text-anchor="end" font-family='"Liberation Sans", sans-serif' font-size="10.2" fill="#1a1a1a" stroke="#1a1a1a" stroke-width="0.12">10<tspan dy="-3.9" font-size="6.5">-1</tspan></text>
<text transform="translate(381.0,261.3) scale(0.93,1)" text-anchor="end" font-family='"Liberation Sans", sans-serif' font-size="10.2" fill="#1a1a1a" stroke="#1a1a1a" stroke-width="0.12">10<tspan dy="-3.9" font-size="6.5">-3</tspan></text>
<text transform="translate(381.0,290.4) scale(0.93,1)" text-anchor="end" font-family='"Liberation Sans", sans-serif' font-size="10.2" fill="#1a1a1a" stroke="#1a1a1a" stroke-width="0.12">10<tspan dy="-3.9" font-size="6.5">-5</tspan></text>
<text transform="translate(381.0,319.4) scale(0.93,1)" text-anchor="end" font-family='"Liberation Sans", sans-serif' font-size="10.2" fill="#1a1a1a" stroke="#1a1a1a" stroke-width="0.12">10<tspan dy="-3.9" font-size="6.5">-7</tspan></text>
<text transform="translate(381.0,348.5) scale(0.93,1)" text-anchor="end" font-family='"Liberation Sans", sans-serif' font-size="10.2" fill="#1a1a1a" stroke="#1a1a1a" stroke-width="0.12">10<tspan dy="-3.9" font-size="6.5">-9</tspan></text>
<text x="417.1" y="358.7" text-anchor="middle" font-family='"Liberation Sans", sans-serif' font-size="10.2" fill="#1a1a1a" stroke="#1a1a1a" stroke-width="0.12">400</text>
<text x="445.5" y="358.7" text-anchor="middle" font-family='"Liberation Sans", sans-serif' font-size="10.2" fill="#1a1a1a" stroke="#1a1a1a" stroke-width="0.12">800</text>
<text x="474.3" y="358.7" text-anchor="middle" font-family='"Liberation Sans", sans-serif' font-size="10.2" fill="#1a1a1a" stroke="#1a1a1a" stroke-width="0.12">1200</text>
<text x="503.6" y="358.7" text-anchor="middle" font-family='"Liberation Sans", sans-serif' font-size="10.2" fill="#1a1a1a" stroke="#1a1a1a" stroke-width="0.12">1600</text>
<text x="531.5" y="358.7" text-anchor="middle" font-family='"Liberation Sans", sans-serif' font-size="10.2" fill="#1a1a1a" stroke="#1a1a1a" stroke-width="0.12">2000</text>
<text x="402.3" y="193.5" textLength="121.9" lengthAdjust="spacingAndGlyphs" font-family='"Liberation Serif", serif' font-size="10.3" fill="#1a1a1a" stroke="#1a1a1a" stroke-width="0.15">(f) <tspan font-style="italic">f</tspan>=0.001 Hz&#160; y-polarization</text>
<text x="459.0" y="370.9" text-anchor="middle" textLength="68.5" lengthAdjust="spacingAndGlyphs" font-family='"Liberation Serif", serif' font-size="11.1" fill="#1a1a1a" stroke="#1a1a1a" stroke-width="0.15">Iteration number</text>
<line x1="84.7" y1="383.6" x2="116" y2="383.6" stroke="#F0B82A" stroke-width="1.5"/>
<text x="123" y="387.9" textLength="59" lengthAdjust="spacingAndGlyphs" font-family='"Liberation Serif", serif' font-size="10.9" fill="#1a1a1a" stroke="#1a1a1a" stroke-width="0.15">SOR-GMRES</text>
<line x1="185.1" y1="383.6" x2="216" y2="383.6" stroke="#249CC0" stroke-width="1.5"/>
<text x="223.7" y="387.9" textLength="70" lengthAdjust="spacingAndGlyphs" font-family='"Liberation Serif", serif' font-size="10.9" fill="#1a1a1a" stroke="#1a1a1a" stroke-width="0.15">ILU-BICGSTAB</text>
<line x1="296.9" y1="383.6" x2="327.5" y2="383.6" stroke="#10263A" stroke-width="1.5"/>
<text x="334.8" y="387.9" textLength="72.4" lengthAdjust="spacingAndGlyphs" font-family='"Liberation Serif", serif' font-size="10.9" fill="#1a1a1a" stroke="#1a1a1a" stroke-width="0.15">SOR-BICGSTAB</text>
<line x1="412" y1="383.6" x2="442.9" y2="383.6" stroke="#E03A3A" stroke-width="1.5"/>
<text x="449.2" y="387.9" textLength="40" lengthAdjust="spacingAndGlyphs" font-family='"Liberation Serif", serif' font-size="10.9" fill="#1a1a1a" stroke="#1a1a1a" stroke-width="0.15">Multigrid</text>
</svg></body></html>
